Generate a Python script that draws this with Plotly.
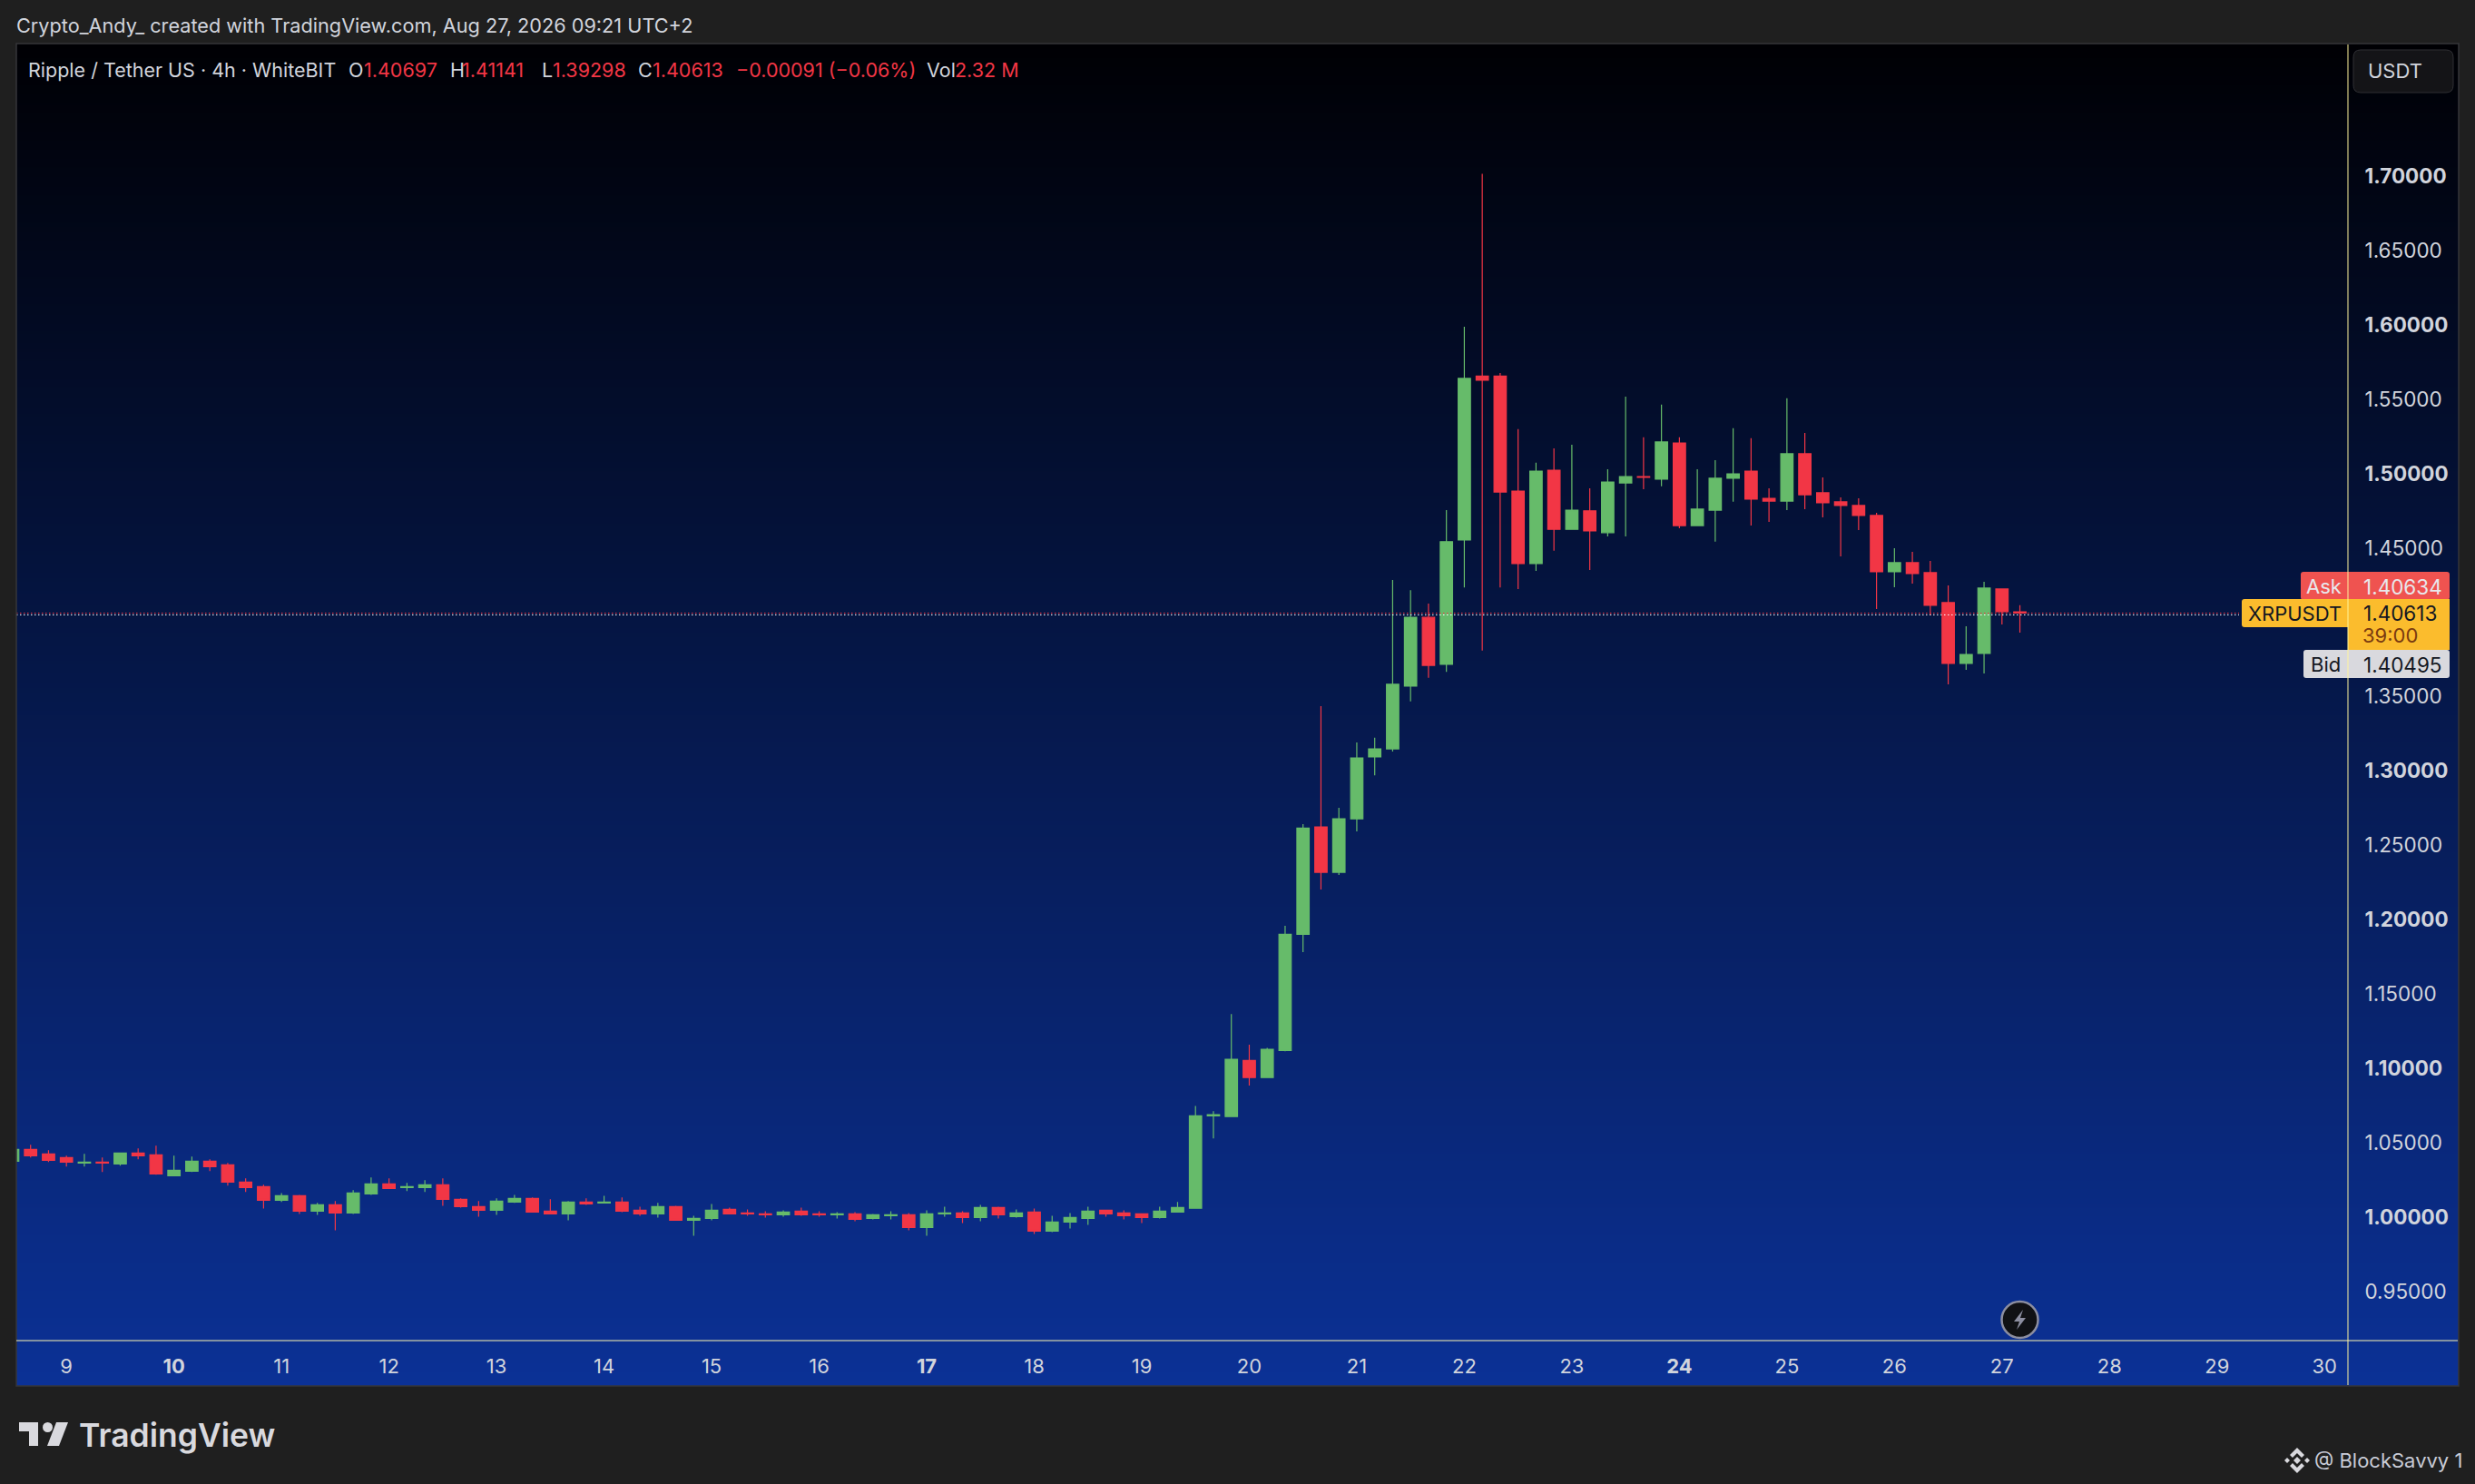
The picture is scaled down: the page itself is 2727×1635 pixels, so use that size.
import pandas as pd
import plotly.graph_objects as go

W, H = 2727, 1635

# 4h candles of XRP/USDT, first candle 2026-08-08 12:00
first_candle = "2026-08-08 12:00"
open_ = [1.03748,1.04543,1.04237,1.03993,1.03626,1.03687,1.03565,1.04298,1.04176,1.02771,1.03077,1.03748,1.03504,1.02344,1.02038,1.01122,1.01427,1.00389,1.00816,1.00267,1.01549,1.02221,1.01977,1.01977,1.02160,1.01183,1.00694,1.00450,1.01000,1.01244,1.00389,1.00206,1.01000,1.00939,1.01000,1.00450,1.00206,1.00694,0.99778,0.99900,1.00511,1.00267,1.00206,1.00144,1.00389,1.00206,1.00144,1.00206,0.99900,1.00083,1.00144,0.99289,1.00206,1.00267,0.99961,1.00633,1.00022,1.00328,0.99045,0.99656,0.99900,1.00450,1.00267,1.00206,0.99961,1.00328,1.00579,1.06800,1.06749,1.10528,1.09371,1.11197,1.19013,1.26237,1.23178,1.26777,1.30942,1.31482,1.35699,1.40329,1.37165,1.45527,1.56555,1.56555,1.48826,1.43945,1.50227,1.46250,1.47493,1.46024,1.49369,1.49798,1.49617,1.52058,1.46498,1.47538,1.49685,1.50160,1.48329,1.48148,1.51335,1.48709,1.48098,1.47853,1.47182,1.43394,1.44005,1.43333,1.41317,1.37225,1.37896,1.42234,1.40697]
high = [1.04543,1.04848,1.04481,1.04115,1.04237,1.03993,1.04298,1.04604,1.04787,1.04115,1.04054,1.03870,1.03626,1.02588,1.02160,1.01610,1.01488,1.00939,1.01061,1.01794,1.02649,1.02588,1.02282,1.02466,1.02588,1.01244,1.01061,1.01244,1.01488,1.01305,1.01183,1.01061,1.01244,1.01427,1.01305,1.00694,1.00939,1.00755,1.00083,1.00877,1.00633,1.00511,1.00389,1.00450,1.00633,1.00389,1.00328,1.00328,1.00206,1.00389,1.00267,1.00450,1.00694,1.00389,1.00816,1.00694,1.00511,1.00572,1.00083,1.00267,1.00694,1.00450,1.00450,1.00206,1.00694,1.01000,1.07469,1.07109,1.13639,1.11583,1.11377,1.19578,1.26417,1.34362,1.27523,1.31919,1.32228,1.42841,1.42159,1.41255,1.47538,1.59878,1.70161,1.56759,1.52985,1.50725,1.51696,1.51945,1.49007,1.50295,1.55177,1.52442,1.54634,1.52442,1.50295,1.50905,1.53052,1.52374,1.49007,1.55064,1.52736,1.49747,1.48403,1.48342,1.47365,1.44982,1.44738,1.44127,1.42478,1.39729,1.42722,1.42234,1.41141]
low = [1.03748,1.03993,1.03687,1.03382,1.03382,1.03015,1.03443,1.03870,1.02832,1.02771,1.03015,1.03077,1.02099,1.01672,1.00572,1.01000,1.00206,1.00144,0.99106,1.00206,1.01488,1.01916,1.01733,1.01672,1.00755,1.00633,1.00022,1.00144,1.00939,1.00328,1.00206,0.99778,1.00816,1.00939,1.00328,1.00083,0.99961,0.99778,0.98740,0.99778,1.00206,1.00083,0.99961,1.00022,1.00083,1.00022,0.99900,0.99717,0.99839,0.99839,0.99106,0.98740,1.00022,0.99595,0.99717,0.99900,0.99961,0.98862,0.98984,0.99228,0.99473,1.00022,0.99839,0.99595,0.99900,1.00328,1.00579,1.05284,1.06749,1.08832,1.09371,1.11146,1.17804,1.22021,1.22998,1.25929,1.29708,1.31302,1.34670,1.36261,1.36667,1.42340,1.38091,1.42340,1.42227,1.43447,1.44803,1.46250,1.43515,1.45775,1.45775,1.48939,1.49143,1.46318,1.46498,1.45414,1.48103,1.46498,1.46747,1.47538,1.47606,1.47059,1.44433,1.46204,1.40890,1.42356,1.42600,1.40462,1.35820,1.36797,1.36553,1.39851,1.39298]
close = [1.04543,1.04115,1.03809,1.03687,1.03687,1.03626,1.04298,1.04115,1.02893,1.03138,1.03748,1.03382,1.02344,1.01977,1.01122,1.01427,1.00389,1.00816,1.00267,1.01610,1.02221,1.01916,1.02038,1.02160,1.01183,1.00694,1.00450,1.01061,1.01244,1.00328,1.00206,1.01000,1.00877,1.01000,1.00389,1.00206,1.00694,0.99778,0.99900,1.00450,1.00206,1.00206,1.00144,1.00328,1.00144,1.00144,1.00206,0.99839,1.00144,1.00144,0.99289,1.00206,1.00267,0.99961,1.00633,1.00144,1.00267,0.99045,0.99656,0.99961,1.00389,1.00206,1.00083,0.99961,1.00389,1.00633,1.06800,1.06878,1.10606,1.09371,1.11274,1.19013,1.26160,1.23178,1.26777,1.30865,1.31482,1.35827,1.40329,1.37097,1.45414,1.56397,1.56284,1.48758,1.43945,1.50160,1.46250,1.47538,1.46137,1.49436,1.49798,1.49753,1.52126,1.46498,1.47606,1.49685,1.49979,1.48284,1.48148,1.51335,1.48578,1.48037,1.47853,1.47182,1.43394,1.44005,1.43272,1.41134,1.37225,1.37835,1.42295,1.40704,1.40613]

day_ticks = [f"2026-08-{d:02d}" for d in range(9, 31)]
day_labels = [str(d) if d not in (10, 17, 24) else f"<b>{d}</b>" for d in range(9, 31)]
price_ticks = [0.95, 1.0, 1.05, 1.1, 1.15, 1.2, 1.25, 1.3, 1.35, 1.45, 1.5, 1.55, 1.6, 1.65, 1.7]
price_labels = ["0.95000", "<b>1.00000</b>", "1.05000", "<b>1.10000</b>", "1.15000", "<b>1.20000</b>", "1.25000",
                "<b>1.30000</b>", "1.35000", "1.45000", "<b>1.50000</b>", "1.55000", "<b>1.60000</b>", "1.65000",
                "<b>1.70000</b>"]
last_price, ask_price, bid_price = 1.40613, 1.40634, 1.40495
UP, DOWN = "#66bb6a", "#f23645"
FONT = "Inter"
TXT = "#d1d4dc"

times = pd.date_range(first_candle, periods=len(open_), freq="4h")


def px(x):
    return x / W


def py(y):
    return 1 - y / H


def poly(points):
    return "M" + " L".join(f"{px(x):.6f},{py(y):.6f}" for x, y in points) + " Z"


def rrect(x0, y0, x1, y1, r):
    p = lambda x, y: f"{px(x):.6f},{py(y):.6f}"
    return (f"M{p(x0 + r, y0)} L{p(x1 - r, y0)} Q{p(x1, y0)} {p(x1, y0 + r)} L{p(x1, y1 - r)} "
            f"Q{p(x1, y1)} {p(x1 - r, y1)} L{p(x0 + r, y1)} Q{p(x0, y1)} {p(x0, y1 - r)} "
            f"L{p(x0, y0 + r)} Q{p(x0, y0)} {p(x0 + r, y0)} Z")


def box(x0, y0, x1, y1, fill):
    return dict(type="rect", xref="paper", yref="paper", x0=px(x0), x1=px(x1), y0=py(y0), y1=py(y1),
                fillcolor=fill, line=dict(width=0))


def path(d, fill, line=None, width=0):
    return dict(type="path", xref="paper", yref="paper", path=d, fillcolor=fill,
                line=dict(width=width, color=line or fill))


def seg(x0, y0, x1, y1, color, width=1):
    return dict(type="line", xref="paper", yref="paper", x0=px(x0), x1=px(x1), y0=py(y0), y1=py(y1),
                line=dict(color=color, width=width))


def note(text, x, y, size=21.5, color=TXT, anchor="left", **font):
    return dict(text=text, xref="paper", yref="paper", x=px(x), y=py(y), xanchor=anchor, yanchor="middle",
                showarrow=False, align=anchor, borderpad=0,
                font=dict(family=FONT, size=size, color=color, **font))


fig = go.Figure()
fig.add_trace(go.Heatmap(x=[0, 1], y=[0, 1], z=[[0, 0], [1, 1]], zsmooth="best", showscale=False,
                         colorscale=[[0, "#0b3196"], [1, "#000004"]], hoverinfo="skip",
                         xaxis="x", yaxis="y"))
fig.add_trace(go.Candlestick(x=times, open=open_, high=high, low=low, close=close, xaxis="x2", yaxis="y2",
                             increasing=dict(line=dict(color=UP, width=1.2), fillcolor=UP),
                             decreasing=dict(line=dict(color=DOWN, width=1.2), fillcolor=DOWN),
                             whiskerwidth=0, hoverinfo="skip", showlegend=False))

shapes = [
    dict(type="line", xref="paper", yref="y2", x0=px(18), x1=px(2467), y0=last_price, y1=last_price,
         line=dict(color=DOWN, width=1, dash="1.5px,2.5px")),
    dict(type="line", xref="paper", yref="y2", x0=px(18), x1=px(2467), y0=bid_price, y1=bid_price,
         line=dict(color="#ffffff", width=1, dash="1.5px,2.5px")),
    path(rrect(2535, 630, 2699, 661, 3), "#ef5350"),
    path(rrect(2538, 716, 2699, 747, 3), "#d9d9de"),
    path(rrect(2470, 660, 2590, 691, 3), "#fbbc2d"),
    box(2587, 660, 2699, 716, "#fbbc2d"),
    path(rrect(2593, 55, 2703, 102, 8), "#141417", "#303035", 1),
    dict(type="rect", xref="paper", yref="paper", x0=px(18), x1=px(2709), y0=py(48), y1=py(1527),
         line=dict(color="#36363a", width=1.5), fillcolor="rgba(0,0,0,0)"),
    seg(18, 1477, 2708, 1477, "#fff9b0"),
    seg(2587, 49, 2587, 1526, "#fff59d"),
    dict(type="circle", xref="paper", yref="paper", x0=px(2205.5), x1=px(2245.5), y0=py(1434), y1=py(1474),
         fillcolor="#101114", line=dict(color="#8c8ea0", width=2.5)),
    path(poly([(2229, 1443), (2219, 1456), (2225, 1456), (2222, 1465), (2232, 1452), (2226, 1452)]), "#8c8ea0"),
    path(poly([(21, 1567), (42, 1567), (42, 1593), (32, 1593), (32, 1577), (21, 1577)]), "#d9d9de"),
    dict(type="circle", xref="paper", yref="paper", x0=px(47), x1=px(58), y0=py(1567), y1=py(1578),
         fillcolor="#d9d9de", line=dict(width=0)),
    path(poly([(62, 1567), (75, 1567), (65, 1593), (52, 1593)]), "#d9d9de"),
    path(poly([(2531, 1595), (2539, 1603), (2536, 1606), (2531, 1601), (2526, 1606), (2523, 1603)]), "#d9d9de"),
    path(poly([(2531, 1623), (2539, 1615), (2536, 1612), (2531, 1617), (2526, 1612), (2523, 1615)]), "#d9d9de"),
    path(poly([(2531, 1605), (2535, 1609), (2531, 1613), (2527, 1609)]), "#d9d9de"),
    path(poly([(2520, 1606), (2523, 1609), (2520, 1612), (2517, 1609)]), "#d9d9de"),
    path(poly([(2542, 1606), (2545, 1609), (2542, 1612), (2539, 1609)]), "#d9d9de"),
]

annotations = [
    note("Crypto_Andy_ created with TradingView.com, Aug 27, 2026 09:21 UTC+2", 17, 28, size=21.7, color="#d1d4dc"),
    note("Ripple / Tether US · 4h · WhiteBIT", 30, 77),
    note("O", 383, 77), note("1.40697", 400, 77, color=DOWN),
    note("H", 495, 77), note("1.41141", 508, 77, color=DOWN),
    note("L", 596, 77), note("1.39298", 608, 77, color=DOWN),
    note("C", 702, 77), note("1.40613", 718, 77, color=DOWN),
    note("−0.00091 (−0.06%)", 810, 77, color=DOWN),
    note("Vol", 1020, 77), note("2.32 M", 1051, 77, color=DOWN),
    note("USDT", 2608, 78, size=22),
    note("Ask", 2560, 646, size=22, color="#e8e8ec", anchor="center"),
    note(f"{ask_price:.5f}", 2603, 646, size=22.5, color="#e8e8ec"),
    note("XRPUSDT", 2528, 676, size=22, color="#131722", anchor="center"),
    note(f"{last_price:.5f}", 2603, 676, size=22.5, color="#131722"),
    note("39:00", 2602, 700, size=22, color="#7a3a10"),
    note("Bid", 2562, 732, size=22, color="#131722", anchor="center"),
    note(f"{bid_price:.5f}", 2603, 732, size=22.5, color="#131722"),
    note("TradingView", 86, 1581, size=35.5, color="#d9d9de", weight=600),
    note("@ BlockSavvy 1", 2549, 1609, size=22, color="#c8cbd6"),
]

fig.update_layout(
    width=W, height=H, margin=dict(l=0, r=0, t=0, b=0), autosize=False,
    paper_bgcolor="#1f1f1f", plot_bgcolor="rgba(0,0,0,0)", showlegend=False,
    boxmode="overlay", boxgap=0.02,
    shapes=shapes, annotations=annotations,
    xaxis=dict(domain=[px(18), px(2709)], range=[0, 1], visible=False, fixedrange=True),
    yaxis=dict(domain=[py(1527), py(48)], range=[0, 1], visible=False, fixedrange=True),
    xaxis2=dict(domain=[px(18), px(2587)], anchor="y2", type="date", rangeslider=dict(visible=False),
                range=["2026-08-08 12:49:05", "2026-08-30 05:13:00"], showgrid=False, zeroline=False,
                tickmode="array", tickvals=day_ticks, ticktext=day_labels, ticks="outside", ticklen=9,
                tickcolor="rgba(0,0,0,0)", tickfont=dict(family=FONT, size=22, color=TXT), showline=False),
    yaxis2=dict(domain=[py(1477), py(48)], anchor="x2", side="right", range=[0.91682, 1.78922], showgrid=False,
                zeroline=False, tickmode="array", tickvals=price_ticks, ticktext=price_labels, ticks="outside",
                ticklen=13, tickcolor="rgba(0,0,0,0)", tickfont=dict(family=FONT, size=22.5, color=TXT), showline=False),
)

fig.write_html("out.html", config=dict(displayModeBar=False),
               post_script="document.body.style.margin='0';document.body.style.background='#1f1f1f';document.body.style.overflow='hidden';")
